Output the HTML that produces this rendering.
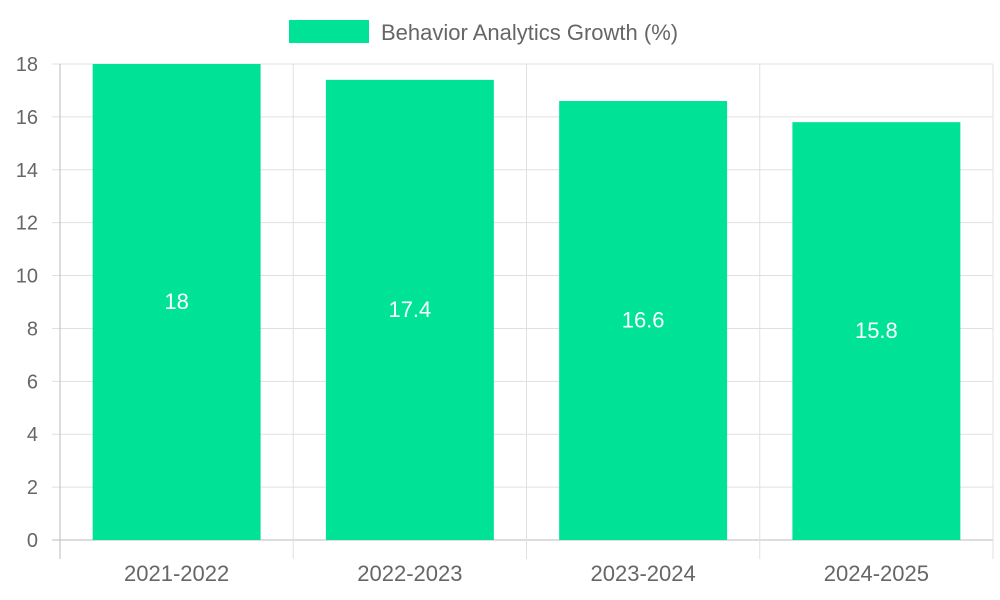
<!DOCTYPE html>
<html><head><meta charset="utf-8"><style>
body{margin:0;background:#fff;}
svg{display:block;font-family:"Liberation Sans",sans-serif;}
</style></head><body>
<svg id="chart" width="1000" height="600"></svg>
<script>
const categories=["2021-2022","2022-2023","2023-2024","2024-2025"];
const values=[18,17.4,16.6,15.8];
const yTicks=[0,2,4,6,8,10,12,14,16,18];
const seriesName="Behavior Analytics Growth (%)";

const svg=document.getElementById('chart');
const NS="http://www.w3.org/2000/svg";
const L=60,R=993,T=64,B=540,yMax=18;
const y=v=>B-(v/yMax)*(B-T);
const bw=(R-L)/categories.length;
const x=i=>L+bw*i;
function mk(tag,attrs,parent){const e=document.createElementNS(NS,tag);for(const k in attrs)e.setAttribute(k,attrs[k]);(parent||svg).appendChild(e);return e;}

const grid=mk('g',{});


yTicks.forEach(t=>{
  const ln=mk('line',{x1:L-8,x2:R,y1:y(t),y2:y(t),stroke:t===0?'#bbb':'#e0e0e0','stroke-width':1},grid);
  
  
  const tx=mk('text',{x:L-22,y:y(t)+7,'text-anchor':'end','font-size':20,fill:'#666'});
  tx.textContent=t;
  
  
});
for(let i=0;i<=categories.length;i++){
  const ln=mk('line',{x1:x(i),x2:x(i),y1:T,y2:B+19,stroke:i===0?'#bbb':'#e0e0e0','stroke-width':1},grid);
  
  
}
categories.forEach((c,i)=>{
  const cx=x(i)+bw/2, w=bw*0.72;
  const r=mk('rect',{x:cx-w/2,y:y(values[i]),width:w,height:B-y(values[i]),fill:'#00e396'});
  
  
  const v=mk('text',{x:cx,y:(y(values[i])+B)/2+7,'text-anchor':'middle','font-size':22,fill:'#fff'});
  v.textContent=values[i];
  
  
  const t=mk('text',{x:cx,y:581,'text-anchor':'middle','font-size':22,fill:'#666'});
  t.textContent=c;
  
  
});
const lg=mk('g',{});


mk('rect',{x:289,y:20,width:80,height:23,fill:'#00e396'},lg);
const lt=mk('text',{x:381,y:40,'font-size':22,fill:'#666'},lg);
lt.textContent=seriesName;
</script>
</body></html>
